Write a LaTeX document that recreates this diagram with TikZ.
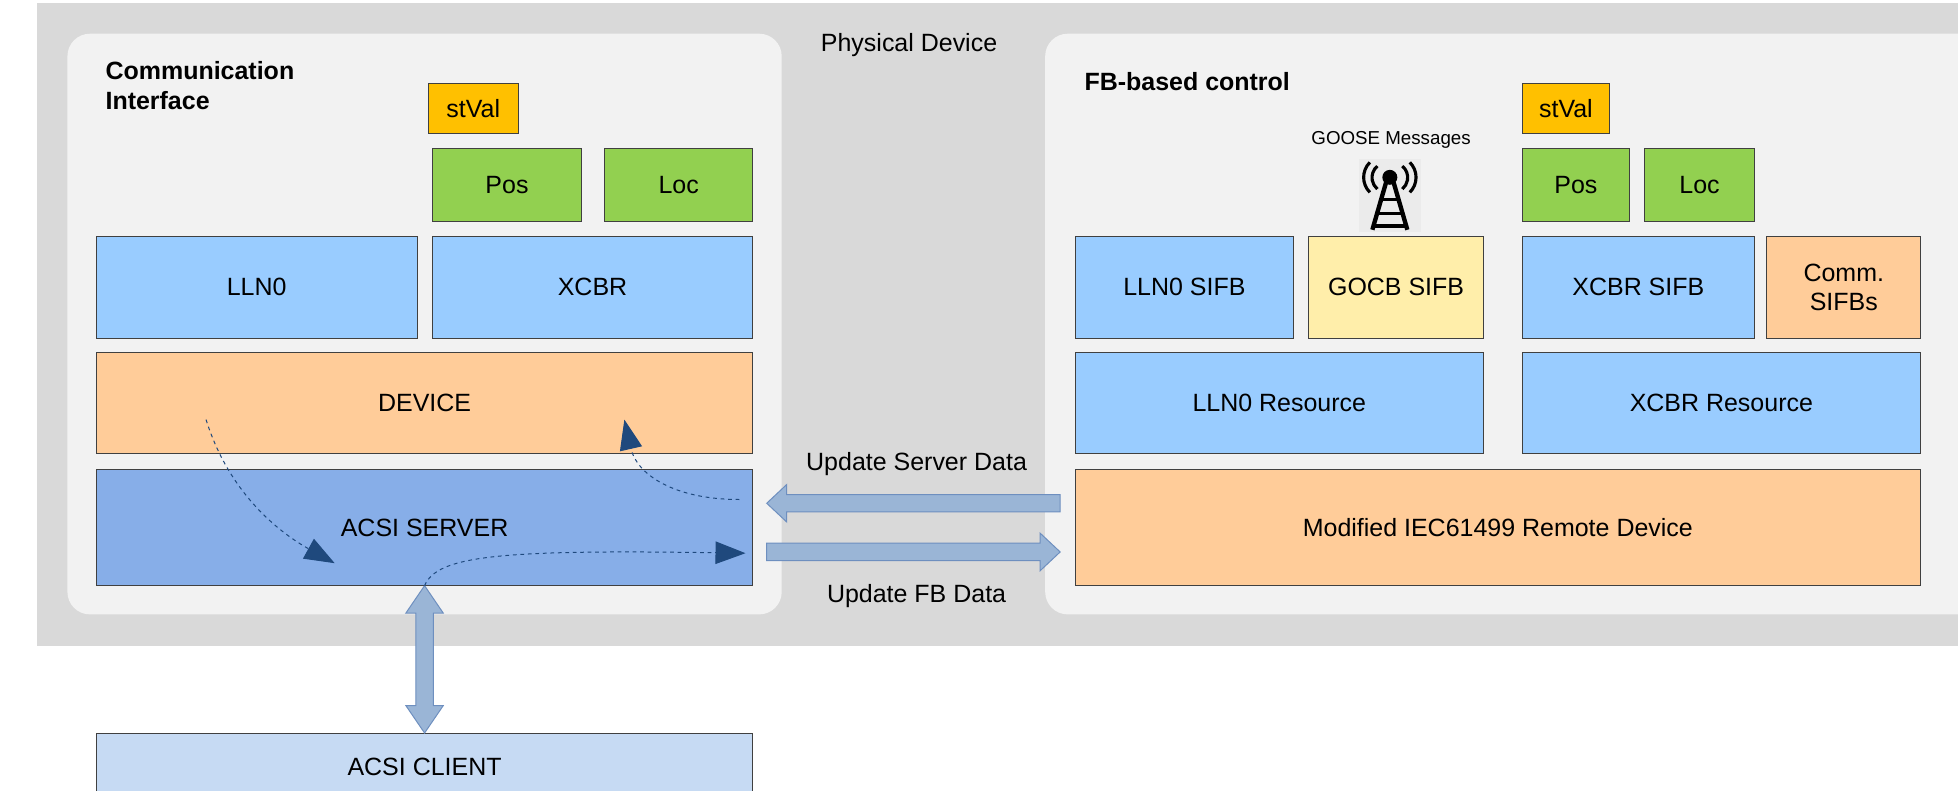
\documentclass[tikz,border=0pt]{standalone}
\usepackage{fontspec}
\setmainfont{Liberation Sans}
\usetikzlibrary{arrows.meta, positioning}
\definecolor{bgGray}{HTML}{D9D9D9}
\definecolor{panelGray}{HTML}{F2F2F2}
\definecolor{lnBlue}{HTML}{99CCFF}
\definecolor{srvBlue}{HTML}{87AEE8}
\definecolor{cliBlue}{HTML}{C6DAF3}
\definecolor{devOrange}{HTML}{FFCC99}
\definecolor{doGreen}{HTML}{92D050}
\definecolor{daYellow}{HTML}{FFC000}
\definecolor{gocbYellow}{HTML}{FFEEAA}
\definecolor{fatBlue}{HTML}{9AB5D6}
\definecolor{fatEdge}{HTML}{6E8FBF}
\definecolor{dashBlue}{HTML}{1F497D}
\tikzset{
    box/.style={draw=black!75, line width=0.8pt, inner sep=0pt, align=center,
        font=\fontsize{20}{23}\selectfont},
    lbl/.style={font=\fontsize{20}{23}\selectfont},
    panel/.style={fill=panelGray, rounded corners=18pt},
    flow/.style={dashBlue, dashed, line width=0.8pt,
        -{Triangle[length=24pt,width=18pt]}},
    fat/.style={fill=fatBlue, draw=fatEdge, line width=0.8pt},
}
\begin{document}
\begin{tikzpicture}[x=1pt, y=-1pt]
    \useasboundingbox (0,0) rectangle (1568,633);
    \clip (0,0) rectangle (1568,633);
    \fill[bgGray] (30,2) rectangle (1568,517);
    \fill[panel] (54,27) rectangle (626,492);
    \fill[panel] (837,27) rectangle (1600,492);
    \node[lbl] (phys) at (728,36) {Physical Device};

    % communication interface
    \node[anchor=north west, align=left, font=\bfseries\fontsize{20}{24}\selectfont]
        (ciTitle) at (81,46) {Communication\\Interface};
    \node[box, fill=daYellow, minimum width=72pt, minimum height=40pt]
        (stValL) at (379,87) {stVal};
    \node[box, fill=doGreen, minimum width=120pt, minimum height=58pt]
        (posL) at (406,148) {Pos};
    \node[box, fill=doGreen, minimum width=119pt, minimum height=58pt]
        (locL) at (543.5,148) {Loc};
    \node[box, fill=lnBlue, minimum width=257pt, minimum height=82pt]
        (lln0) at (205.5,230) {LLN0};
    \node[box, fill=lnBlue, minimum width=257pt, minimum height=82pt]
        (xcbr) at (474.5,230) {XCBR};
    \node[box, fill=devOrange, minimum width=526pt, minimum height=81pt]
        (device) at (340,322.5) {DEVICE};
    \node[box, fill=srvBlue, minimum width=526pt, minimum height=93pt]
        (server) at (340,422.5) {ACSI SERVER};
    \node[box, fill=cliBlue, minimum width=526pt, minimum height=76pt]
        (client) at (340,625) {};
    \node[lbl] (clientTxt) at (340,614) {ACSI CLIENT};

    % FB-based control
    \node[anchor=west, font=\bfseries\fontsize{20}{24}\selectfont]
        (fbTitle) at (865,65) {FB-based control};
    \node[box, fill=daYellow, minimum width=70pt, minimum height=40pt]
        (stValR) at (1254,87) {stVal};
    \node[box, fill=doGreen, minimum width=86pt, minimum height=58pt]
        (posR) at (1262,148) {Pos};
    \node[box, fill=doGreen, minimum width=88pt, minimum height=58pt]
        (locR) at (1361,148) {Loc};
    \node[box, fill=lnBlue, minimum width=175pt, minimum height=82pt]
        (lln0Sifb) at (948.5,230) {LLN0 SIFB};
    \node[box, fill=gocbYellow, minimum width=140pt, minimum height=82pt]
        (gocbSifb) at (1118,230) {GOCB SIFB};
    \node[box, fill=lnBlue, minimum width=186pt, minimum height=82pt]
        (xcbrSifb) at (1312,230) {XCBR SIFB};
    \node[box, fill=devOrange, minimum width=123pt, minimum height=82pt]
        (commSifb) at (1476.5,230) {Comm.\\SIFBs};
    \node[box, fill=lnBlue, minimum width=327pt, minimum height=81pt]
        (lln0Res) at (1024.5,322.5) {LLN0 Resource};
    \node[box, fill=lnBlue, minimum width=319pt, minimum height=81pt]
        (xcbrRes) at (1378.5,322.5) {XCBR Resource};
    \node[box, fill=devOrange, minimum width=677pt, minimum height=93pt]
        (remote) at (1199.5,422.5) {Modified IEC61499 Remote Device};

    % goose antenna
    \node[font=\fontsize{15}{18}\selectfont] (goose) at (1114,112) {GOOSE Messages};
    \fill[black!8] (1088,127) rectangle (1138,186);
    \fill[black] (1113,142) circle (6pt);
    \draw[black, line width=3.5pt] (1110,146) -- (1099,184) (1116,146) -- (1127,184);
    \draw[black, line width=2.5pt] (1106,160) -- (1120,160) (1103,171) -- (1123,171)
        (1101,181) -- (1125,181);
    \draw[black, line width=2.5pt] (1103,133) arc (130:230:12pt) (1123,133) arc (50:-50:12pt);
    \draw[black, line width=2.5pt] (1097,130) arc (135:225:17pt) (1129,130) arc (45:-45:17pt);

    % data exchange
    \draw[fat] (849,396) -- (630,396) -- (630,388) -- (614,403) -- (630,418)
        -- (630,410) -- (849,410) -- cycle;
    \draw[fat] (614,435) -- (833,435) -- (833,427) -- (849,442) -- (833,457)
        -- (833,449) -- (614,449) -- cycle;
    \node[lbl] (srvLbl) at (734,372) {Update Server Data};
    \node[lbl] (fbLbl) at (734,477) {Update FB Data};
    \draw[fat] (333,491) -- (325,491) -- (340,469) -- (355,491) -- (347,491)
        -- (347,565) -- (355,565) -- (340,587) -- (325,565) -- (333,565) -- cycle;

    % internal flows
    \coordinate (d1) at (165,336);
    \coordinate (d2) at (268,451);
    \coordinate (s1) at (592,400);
    \coordinate (s2) at (500,336);
    \coordinate (c1) at (340,469);
    \coordinate (c2) at (597,443);
    \draw[flow] (d1) .. controls (185,400) and (230,430) .. (d2);
    \draw[flow] (s1) .. controls (540,400) and (510,380) .. (s2);
    \draw[flow] (c1) .. controls (350,445) and (400,440) .. (c2);
\end{tikzpicture}
\end{document}
